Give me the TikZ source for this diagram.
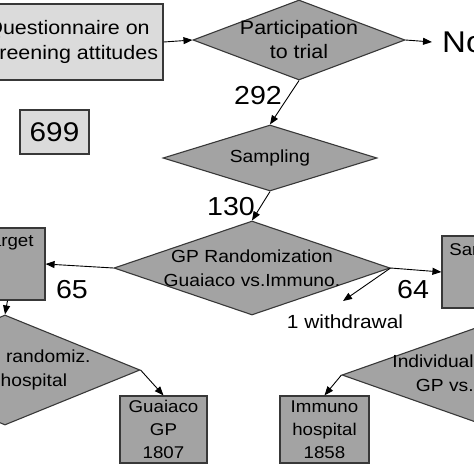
\documentclass[tikz,border=0pt]{standalone}
\usepackage{fontspec}
\setmainfont{Liberation Sans}[FakeStretch=1.1]
\usetikzlibrary{shapes.geometric,arrows.meta}
\definecolor{boxlight}{gray}{.86}
\definecolor{boxdark}{gray}{.64}
\definecolor{edgegray}{gray}{.22}
\begin{document}
\begin{tikzpicture}[x=1pt,y=-1pt,
  lbox/.style={draw=edgegray,line width=1.4pt,fill=boxlight,align=center},
  dbox/.style={draw=edgegray,line width=1.2pt,fill=boxdark,align=center,font=\fontsize{17}{23}\selectfont},
  dia/.style 2 args={diamond,draw=edgegray,line width=1.1pt,fill=boxdark,inner sep=0pt,
    label={[align=center,font=\fontsize{#1}{24}\selectfont]center:{#2}}},
  big/.style={font=\fontsize{26}{30}\selectfont,inner sep=0pt},
  arr/.style={-{Triangle[length=9pt,width=7pt]},line width=.9pt}]
  \useasboundingbox (0,0) rectangle (474,474); \clip (0,0) rectangle (474,474);
  % top row
  \node[lbox,minimum width=190pt,minimum height=76pt,font=\fontsize{19.5}{25}\selectfont] (quest) at (68,42) {Questionnaire on\\screening attitudes};
  \node[dia={19.5}{Participation\\to trial},minimum width=212pt,minimum height=80pt] (part) at (299,40) {};
  \node[big,anchor=west,inner xsep=10pt,font=\fontsize{30}{32}\selectfont] (no) at (432,42) {No};
  \node[lbox,minimum width=69pt,minimum height=44pt,font=\fontsize{27}{30}\selectfont] (n699) at (54.5,132) {699};
  \node[dia={17.5}{Sampling},minimum width=214pt,minimum height=66pt] (samp) at (270,158) {};
  % randomization
  \node[dia={17.5}{GP Randomization\\Guaiaco vs.Immuno.},minimum width=276pt,minimum height=94pt] (gp) at (252,268) {};
  \node[dbox,minimum width=75pt,minimum height=72pt,text depth=46pt] (target) at (7.5,264) {Target};
  \node[dbox,minimum width=78pt,minimum height=72pt,text depth=46pt] (sample) at (481,272) {Sample};
  \node[dia={17.5}{Individual randomiz.\\GP vs.hospital},minimum width=270pt,minimum height=110pt] (lrand) at (5,370) {};
  \node[dia={17.5}{Individual randomiz.\\GP vs.hospital},minimum width=272pt,minimum height=96pt] (rrand) at (478,375) {};
  \node[dbox,inner ysep=0pt,minimum width=87pt,minimum height=67pt] (guai) at (163.5,429.5) {Guaiaco\\GP\\1807};
  \node[dbox,inner ysep=0pt,minimum width=89pt,minimum height=67pt] (immu) at (324.5,429.5) {Immuno\\hospital\\1858};
  % counts
  \node[big] (l292) at (258,96) {292}; \node[big] (l130) at (231,207) {130};
  \node[big] (l65) at (72,290) {65}; \node[big] (l64) at (413,290) {64};
  \node[font=\fontsize{19}{22}\selectfont] (wd) at (345,322) {1 withdrawal};
  \coordinate (wdtip) at (343,301);
  % arrows
  \draw[arr] (quest.east) -- (part.west); \draw[arr] (part.east) -- (no.west);
  \draw[arr] (part.south) -- (samp.north); \draw[arr] (samp.south) -- (gp.north);
  \draw[arr] (gp.west) -- (target.east); \draw[arr] (gp.east) -- (sample.west);
  \draw[arr] (gp.east) -- (wdtip);
  \draw[arr] (target.south) -- (lrand.north); \draw[arr] (sample.south) -- (rrand.north);
  \draw[arr] (lrand.east) -- (guai.north); \draw[arr] (rrand.west) -- (immu.north);
\end{tikzpicture}
\end{document}
